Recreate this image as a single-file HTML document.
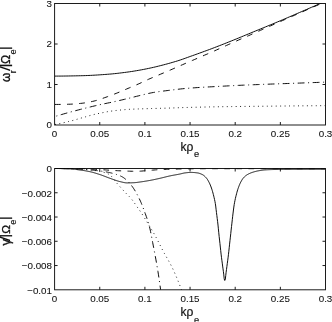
<!DOCTYPE html>
<html><head><meta charset="utf-8"><title>Dispersion plot</title>
<style>
html,body{margin:0;padding:0;background:#fff;}
body{width:332px;height:322px;overflow:hidden;}
svg{display:block;}
text{font-family:"Liberation Sans",sans-serif;fill:#111;}
.t{font-size:9.8px;stroke:#111;stroke-width:0.08px;}
.l{font-size:12px;stroke:#111;stroke-width:0.2px;}
.s{font-size:9.3px;stroke:#111;stroke-width:0.15px;}
.ax{fill:none;stroke:#111;stroke-width:0.95;}
.c{fill:none;stroke:#000;stroke-width:0.95;stroke-linejoin:round;}
</style></head><body>
<svg width="332" height="322" viewBox="0 0 332 322">
<rect width="332" height="322" fill="#fff"/>

<rect class="ax" x="54.6" y="3.5" width="270.9" height="121.5"/>
<path class="ax" d="M99.75,125.0 v-3 M99.75,3.5 v3"/>
<path class="ax" d="M144.90,125.0 v-3 M144.90,3.5 v3"/>
<path class="ax" d="M190.05,125.0 v-3 M190.05,3.5 v3"/>
<path class="ax" d="M235.20,125.0 v-3 M235.20,3.5 v3"/>
<path class="ax" d="M280.35,125.0 v-3 M280.35,3.5 v3"/>
<path class="ax" d="M54.6,84.50 h3 M325.5,84.50 h-3"/>
<path class="ax" d="M54.6,44.00 h3 M325.5,44.00 h-3"/>
<text class="t" x="54.60" y="137.10" text-anchor="middle">0</text>
<text class="t" x="99.75" y="137.10" text-anchor="middle">0.05</text>
<text class="t" x="144.90" y="137.10" text-anchor="middle">0.1</text>
<text class="t" x="190.05" y="137.10" text-anchor="middle">0.15</text>
<text class="t" x="235.20" y="137.10" text-anchor="middle">0.2</text>
<text class="t" x="280.35" y="137.10" text-anchor="middle">0.25</text>
<text class="t" x="325.50" y="137.10" text-anchor="middle">0.3</text>
<text class="t" x="52.0" y="128.40" text-anchor="end">0</text>
<text class="t" x="52.0" y="87.90" text-anchor="end">1</text>
<text class="t" x="52.0" y="47.40" text-anchor="end">2</text>
<text class="t" x="52.0" y="6.90" text-anchor="end">3</text>
<text class="l" x="180.5" y="150.60">kρ</text><text class="s" x="194.0" y="157.00">e</text>

<clipPath id="ct"><rect x="54.6" y="3.5" width="270.9" height="121.5"/></clipPath>
<g clip-path="url(#ct)">
<path class="c" d="M55.00,76.10 L56.70,76.10 L58.40,76.09 L60.09,76.08 L61.79,76.07 L63.49,76.05 L65.19,76.03 L66.89,76.00 L68.58,75.98 L70.28,75.95 L71.98,75.92 L73.68,75.88 L75.38,75.85 L77.08,75.81 L78.77,75.77 L80.47,75.73 L82.17,75.69 L83.87,75.65 L85.57,75.59 L87.26,75.53 L88.96,75.46 L90.66,75.38 L92.36,75.29 L94.06,75.20 L95.75,75.10 L97.45,74.99 L99.15,74.88 L100.85,74.76 L102.55,74.65 L104.25,74.52 L105.94,74.40 L107.64,74.27 L109.34,74.14 L111.04,74.00 L112.74,73.84 L114.43,73.67 L116.13,73.49 L117.83,73.30 L119.53,73.10 L121.23,72.89 L122.92,72.68 L124.62,72.46 L126.32,72.24 L128.02,72.01 L129.72,71.77 L131.42,71.52 L133.11,71.25 L134.81,70.98 L136.51,70.69 L138.21,70.40 L139.91,70.10 L141.60,69.79 L143.30,69.47 L145.00,69.14 L146.70,68.80 L148.40,68.45 L150.09,68.09 L151.79,67.72 L153.49,67.34 L155.19,66.95 L156.89,66.54 L158.58,66.12 L160.28,65.70 L161.98,65.26 L163.68,64.82 L165.38,64.37 L167.08,63.92 L168.77,63.45 L170.47,62.97 L172.17,62.48 L173.87,61.99 L175.57,61.48 L177.26,60.97 L178.96,60.43 L180.66,59.87 L182.36,59.29 L184.06,58.69 L185.75,58.08 L187.45,57.46 L189.15,56.84 L190.85,56.23 L192.55,55.63 L194.25,55.02 L195.94,54.41 L197.64,53.80 L199.34,53.19 L201.04,52.58 L202.74,51.96 L204.43,51.34 L206.13,50.72 L207.83,50.10 L209.53,49.47 L211.23,48.83 L212.92,48.19 L214.62,47.54 L216.32,46.89 L218.02,46.23 L219.72,45.57 L221.42,44.91 L223.11,44.24 L224.81,43.57 L226.51,42.89 L228.21,42.21 L229.91,41.53 L231.60,40.85 L233.30,40.16 L235.00,39.48 L236.70,38.79 L238.40,38.09 L240.09,37.39 L241.79,36.69 L243.49,35.98 L245.19,35.28 L246.89,34.57 L248.58,33.87 L250.28,33.16 L251.98,32.46 L253.68,31.76 L255.38,31.06 L257.08,30.37 L258.77,29.67 L260.47,28.97 L262.17,28.28 L263.87,27.58 L265.57,26.88 L267.26,26.18 L268.96,25.48 L270.66,24.78 L272.36,24.08 L274.06,23.37 L275.75,22.66 L277.45,21.95 L279.15,21.24 L280.85,20.53 L282.55,19.81 L284.25,19.09 L285.94,18.36 L287.64,17.64 L289.34,16.91 L291.04,16.18 L292.74,15.45 L294.43,14.72 L296.13,13.98 L297.83,13.25 L299.53,12.51 L301.23,11.78 L302.92,11.04 L304.62,10.30 L306.32,9.57 L308.02,8.83 L309.72,8.09 L311.42,7.35 L313.11,6.62 L314.81,5.88 L316.51,5.15 L318.21,4.41 L319.91,3.68 L321.60,2.95 L323.30,2.22 L325.00,1.48"/>
<path class="c" stroke-dasharray="5.7 6.4" d="M55.00,104.45 L56.70,104.45 L58.40,104.44 L60.09,104.42 L61.79,104.39 L63.49,104.36 L65.19,104.33 L66.89,104.29 L68.58,104.24 L70.28,104.19 L71.98,104.12 L73.68,104.02 L75.38,103.90 L77.08,103.75 L78.77,103.59 L80.47,103.42 L82.17,103.24 L83.87,103.02 L85.57,102.77 L87.26,102.48 L88.96,102.16 L90.66,101.81 L92.36,101.44 L94.06,101.05 L95.75,100.62 L97.45,100.12 L99.15,99.58 L100.85,99.00 L102.55,98.41 L104.25,97.81 L105.94,97.22 L107.64,96.61 L109.34,95.99 L111.04,95.36 L112.74,94.71 L114.43,94.05 L116.13,93.39 L117.83,92.71 L119.53,92.02 L121.23,91.30 L122.92,90.58 L124.62,89.85 L126.32,89.13 L128.02,88.40 L129.72,87.68 L131.42,86.97 L133.11,86.26 L134.81,85.54 L136.51,84.82 L138.21,84.08 L139.91,83.32 L141.60,82.52 L143.30,81.70 L145.00,80.89 L146.70,80.10 L148.40,79.34 L150.09,78.61 L151.79,77.89 L153.49,77.17 L155.19,76.46 L156.89,75.75 L158.58,75.03 L160.28,74.31 L161.98,73.59 L163.68,72.88 L165.38,72.16 L167.08,71.44 L168.77,70.71 L170.47,69.97 L172.17,69.23 L173.87,68.48 L175.57,67.72 L177.26,66.97 L178.96,66.23 L180.66,65.49 L182.36,64.75 L184.06,64.02 L185.75,63.29 L187.45,62.56 L189.15,61.83 L190.85,61.09 L192.55,60.36 L194.25,59.63 L195.94,58.90 L197.64,58.17 L199.34,57.43 L201.04,56.70 L202.74,55.97 L204.43,55.23 L206.13,54.50 L207.83,53.77 L209.53,53.03 L211.23,52.29 L212.92,51.55 L214.62,50.80 L216.32,50.04 L218.02,49.28 L219.72,48.52 L221.42,47.75 L223.11,46.99 L224.81,46.22 L226.51,45.45 L228.21,44.68 L229.91,43.91 L231.60,43.14 L233.30,42.37 L235.00,41.61 L236.70,40.86 L238.40,40.11 L240.09,39.37 L241.79,38.64 L243.49,37.90 L245.19,37.16 L246.89,36.41 L248.58,35.66 L250.28,34.91 L251.98,34.15 L253.68,33.39 L255.38,32.63 L257.08,31.87 L258.77,31.11 L260.47,30.35 L262.17,29.59 L263.87,28.83 L265.57,28.07 L267.26,27.31 L268.96,26.56 L270.66,25.80 L272.36,25.05 L274.06,24.30 L275.75,23.54 L277.45,22.79 L279.15,22.04 L280.85,21.29 L282.55,20.54 L284.25,19.79 L285.94,19.05 L287.64,18.30 L289.34,17.55 L291.04,16.80 L292.74,16.05 L294.43,15.30 L296.13,14.56 L297.83,13.81 L299.53,13.06 L301.23,12.32 L302.92,11.57 L304.62,10.82 L306.32,10.08 L308.02,9.33 L309.72,8.58 L311.42,7.84 L313.11,7.09 L314.81,6.35 L316.51,5.61 L318.21,4.86 L319.91,4.12 L321.60,3.37 L323.30,2.63 L325.00,1.89"/>
<path class="c" stroke-dasharray="6.8 3.6 1 3.6" stroke-dashoffset="9" d="M55.00,116.47 L56.70,115.96 L58.40,115.46 L60.09,114.96 L61.79,114.47 L63.49,113.98 L65.19,113.50 L66.89,113.03 L68.58,112.55 L70.28,112.09 L71.98,111.63 L73.68,111.17 L75.38,110.72 L77.08,110.27 L78.77,109.83 L80.47,109.39 L82.17,108.96 L83.87,108.53 L85.57,108.10 L87.26,107.68 L88.96,107.27 L90.66,106.85 L92.36,106.45 L94.06,106.04 L95.75,105.64 L97.45,105.25 L99.15,104.86 L100.85,104.49 L102.55,104.13 L104.25,103.77 L105.94,103.42 L107.64,103.07 L109.34,102.72 L111.04,102.36 L112.74,102.00 L114.43,101.62 L116.13,101.24 L117.83,100.86 L119.53,100.47 L121.23,100.08 L122.92,99.68 L124.62,99.29 L126.32,98.88 L128.02,98.47 L129.72,98.06 L131.42,97.64 L133.11,97.20 L134.81,96.76 L136.51,96.34 L138.21,95.93 L139.91,95.51 L141.60,95.10 L143.30,94.68 L145.00,94.27 L146.70,93.87 L148.40,93.49 L150.09,93.12 L151.79,92.78 L153.49,92.46 L155.19,92.17 L156.89,91.91 L158.58,91.67 L160.28,91.44 L161.98,91.22 L163.68,91.01 L165.38,90.81 L167.08,90.60 L168.77,90.39 L170.47,90.18 L172.17,89.97 L173.87,89.76 L175.57,89.55 L177.26,89.35 L178.96,89.15 L180.66,88.96 L182.36,88.78 L184.06,88.62 L185.75,88.47 L187.45,88.32 L189.15,88.19 L190.85,88.05 L192.55,87.93 L194.25,87.80 L195.94,87.69 L197.64,87.57 L199.34,87.46 L201.04,87.36 L202.74,87.26 L204.43,87.16 L206.13,87.07 L207.83,86.98 L209.53,86.89 L211.23,86.80 L212.92,86.71 L214.62,86.62 L216.32,86.52 L218.02,86.43 L219.72,86.34 L221.42,86.25 L223.11,86.16 L224.81,86.07 L226.51,85.98 L228.21,85.89 L229.91,85.80 L231.60,85.72 L233.30,85.63 L235.00,85.55 L236.70,85.46 L238.40,85.38 L240.09,85.30 L241.79,85.23 L243.49,85.15 L245.19,85.08 L246.89,85.01 L248.58,84.94 L250.28,84.87 L251.98,84.80 L253.68,84.73 L255.38,84.67 L257.08,84.60 L258.77,84.54 L260.47,84.47 L262.17,84.41 L263.87,84.34 L265.57,84.28 L267.26,84.22 L268.96,84.16 L270.66,84.09 L272.36,84.03 L274.06,83.97 L275.75,83.91 L277.45,83.85 L279.15,83.79 L280.85,83.73 L282.55,83.67 L284.25,83.61 L285.94,83.55 L287.64,83.49 L289.34,83.44 L291.04,83.38 L292.74,83.32 L294.43,83.26 L296.13,83.20 L297.83,83.14 L299.53,83.08 L301.23,83.02 L302.92,82.96 L304.62,82.90 L306.32,82.84 L308.02,82.78 L309.72,82.71 L311.42,82.65 L313.11,82.59 L314.81,82.53 L316.51,82.47 L318.21,82.40 L319.91,82.34 L321.60,82.28 L323.30,82.21 L325.00,82.15"/>
<path class="c" stroke-dasharray="0.9 3.55" d="M55.00,124.50 L56.70,124.17 L58.40,123.83 L60.09,123.48 L61.79,123.11 L63.49,122.73 L65.19,122.34 L66.89,121.94 L68.58,121.53 L70.28,121.11 L71.98,120.68 L73.68,120.23 L75.38,119.75 L77.08,119.26 L78.77,118.76 L80.47,118.27 L82.17,117.78 L83.87,117.30 L85.57,116.80 L87.26,116.31 L88.96,115.82 L90.66,115.35 L92.36,114.91 L94.06,114.49 L95.75,114.10 L97.45,113.74 L99.15,113.39 L100.85,113.04 L102.55,112.70 L104.25,112.35 L105.94,111.99 L107.64,111.66 L109.34,111.37 L111.04,111.13 L112.74,110.91 L114.43,110.69 L116.13,110.49 L117.83,110.30 L119.53,110.12 L121.23,109.95 L122.92,109.80 L124.62,109.65 L126.32,109.52 L128.02,109.41 L129.72,109.31 L131.42,109.22 L133.11,109.14 L134.81,109.07 L136.51,109.01 L138.21,108.95 L139.91,108.89 L141.60,108.84 L143.30,108.78 L145.00,108.73 L146.70,108.68 L148.40,108.63 L150.09,108.58 L151.79,108.53 L153.49,108.49 L155.19,108.45 L156.89,108.40 L158.58,108.36 L160.28,108.32 L161.98,108.27 L163.68,108.23 L165.38,108.18 L167.08,108.14 L168.77,108.09 L170.47,108.04 L172.17,107.98 L173.87,107.92 L175.57,107.85 L177.26,107.78 L178.96,107.72 L180.66,107.66 L182.36,107.60 L184.06,107.55 L185.75,107.50 L187.45,107.46 L189.15,107.41 L190.85,107.36 L192.55,107.32 L194.25,107.28 L195.94,107.24 L197.64,107.19 L199.34,107.15 L201.04,107.11 L202.74,107.08 L204.43,107.04 L206.13,107.00 L207.83,106.97 L209.53,106.93 L211.23,106.90 L212.92,106.87 L214.62,106.83 L216.32,106.80 L218.02,106.77 L219.72,106.75 L221.42,106.72 L223.11,106.69 L224.81,106.67 L226.51,106.64 L228.21,106.62 L229.91,106.60 L231.60,106.58 L233.30,106.55 L235.00,106.53 L236.70,106.51 L238.40,106.49 L240.09,106.48 L241.79,106.46 L243.49,106.44 L245.19,106.42 L246.89,106.40 L248.58,106.39 L250.28,106.37 L251.98,106.35 L253.68,106.34 L255.38,106.32 L257.08,106.30 L258.77,106.28 L260.47,106.26 L262.17,106.25 L263.87,106.23 L265.57,106.21 L267.26,106.19 L268.96,106.17 L270.66,106.16 L272.36,106.14 L274.06,106.12 L275.75,106.10 L277.45,106.08 L279.15,106.07 L280.85,106.05 L282.55,106.03 L284.25,106.02 L285.94,106.00 L287.64,105.98 L289.34,105.96 L291.04,105.95 L292.74,105.93 L294.43,105.91 L296.13,105.90 L297.83,105.88 L299.53,105.87 L301.23,105.85 L302.92,105.84 L304.62,105.82 L306.32,105.81 L308.02,105.79 L309.72,105.78 L311.42,105.77 L313.11,105.75 L314.81,105.74 L316.51,105.73 L318.21,105.71 L319.91,105.70 L321.60,105.69 L323.30,105.68 L325.00,105.66"/>
</g>
<g transform="translate(10.0,82.0) rotate(-90)"><text transform="translate(0.1,0) scale(1,1)" font-size="12" stroke="#111" stroke-width="0.35">ω</text><text transform="translate(8.8,5.8) scale(1,1)" font-size="9" stroke="#111" stroke-width="0.15">r</text><text transform="translate(10.9,0) scale(1.3,1)" font-size="14.5" stroke="#111" stroke-width="0.08">/</text><text transform="translate(14.8,-0.9) scale(1,1)" font-size="14" stroke="#111" stroke-width="0.25">|</text><text transform="translate(18.0,0) scale(1.03,1)" font-size="12" stroke="#111" stroke-width="0.3">Ω</text><text transform="translate(27.4,5.8) scale(1,1)" font-size="9.3" stroke="#111" stroke-width="0.15">e</text><text transform="translate(32.0,-0.9) scale(1,1)" font-size="14" stroke="#111" stroke-width="0.25">|</text></g>
<rect class="ax" x="54.6" y="168.5" width="270.9" height="121.30000000000001"/>
<path class="ax" d="M99.75,289.8 v-3 M99.75,168.5 v3"/>
<path class="ax" d="M144.90,289.8 v-3 M144.90,168.5 v3"/>
<path class="ax" d="M190.05,289.8 v-3 M190.05,168.5 v3"/>
<path class="ax" d="M235.20,289.8 v-3 M235.20,168.5 v3"/>
<path class="ax" d="M280.35,289.8 v-3 M280.35,168.5 v3"/>
<path class="ax" d="M54.6,192.76 h3 M325.5,192.76 h-3"/>
<path class="ax" d="M54.6,217.02 h3 M325.5,217.02 h-3"/>
<path class="ax" d="M54.6,241.28 h3 M325.5,241.28 h-3"/>
<path class="ax" d="M54.6,265.54 h3 M325.5,265.54 h-3"/>
<text class="t" x="54.60" y="301.90" text-anchor="middle">0</text>
<text class="t" x="99.75" y="301.90" text-anchor="middle">0.05</text>
<text class="t" x="144.90" y="301.90" text-anchor="middle">0.1</text>
<text class="t" x="190.05" y="301.90" text-anchor="middle">0.15</text>
<text class="t" x="235.20" y="301.90" text-anchor="middle">0.2</text>
<text class="t" x="280.35" y="301.90" text-anchor="middle">0.25</text>
<text class="t" x="325.50" y="301.90" text-anchor="middle">0.3</text>
<text class="t" x="52.0" y="172.00" text-anchor="end">0</text>
<text class="t" x="52.0" y="196.66" text-anchor="end">−0.002</text>
<text class="t" x="52.0" y="220.92" text-anchor="end">−0.004</text>
<text class="t" x="52.0" y="245.18" text-anchor="end">−0.006</text>
<text class="t" x="52.0" y="269.44" text-anchor="end">−0.008</text>
<text class="t" x="52.0" y="293.70" text-anchor="end">−0.01</text>
<text class="l" x="180.5" y="316.10">kρ</text><text class="s" x="194.0" y="322.50">e</text>

<clipPath id="cb"><rect x="54.6" y="168.5" width="270.9" height="121.30000000000001"/></clipPath>
<g clip-path="url(#cb)">
<path class="c" d="M55.00,168.50 L55.39,168.50 L55.77,168.50 L56.16,168.50 L56.55,168.51 L56.93,168.51 L57.32,168.51 L57.70,168.52 L58.09,168.52 L58.48,168.53 L58.86,168.53 L59.25,168.54 L59.64,168.55 L60.02,168.55 L60.41,168.56 L60.79,168.57 L61.18,168.58 L61.57,168.59 L61.95,168.60 L62.34,168.61 L62.73,168.62 L63.11,168.63 L63.50,168.65 L63.88,168.66 L64.27,168.67 L64.66,168.68 L65.04,168.70 L65.43,168.71 L65.82,168.73 L66.20,168.74 L66.59,168.76 L66.97,168.77 L67.36,168.79 L67.75,168.80 L68.13,168.82 L68.52,168.84 L68.91,168.85 L69.29,168.87 L69.68,168.89 L70.06,168.90 L70.45,168.92 L70.84,168.94 L71.22,168.97 L71.61,169.00 L72.00,169.03 L72.38,169.06 L72.77,169.10 L73.15,169.13 L73.54,169.17 L73.93,169.22 L74.31,169.26 L74.70,169.30 L75.09,169.35 L75.47,169.40 L75.86,169.45 L76.24,169.49 L76.63,169.55 L77.02,169.60 L77.40,169.65 L77.79,169.70 L78.18,169.75 L78.56,169.81 L78.95,169.86 L79.33,169.91 L79.72,169.96 L80.11,170.01 L80.49,170.07 L80.88,170.12 L81.27,170.17 L81.65,170.23 L82.04,170.28 L82.42,170.34 L82.81,170.40 L83.20,170.46 L83.58,170.52 L83.97,170.58 L84.36,170.64 L84.74,170.71 L85.13,170.77 L85.52,170.84 L85.90,170.90 L86.29,170.97 L86.67,171.04 L87.06,171.11 L87.45,171.19 L87.83,171.26 L88.22,171.33 L88.61,171.41 L88.99,171.49 L89.38,171.57 L89.76,171.65 L90.15,171.73 L90.54,171.82 L90.92,171.91 L91.31,172.00 L91.70,172.09 L92.08,172.19 L92.47,172.29 L92.85,172.40 L93.24,172.50 L93.63,172.61 L94.01,172.72 L94.40,172.83 L94.79,172.95 L95.17,173.06 L95.56,173.18 L95.94,173.30 L96.33,173.42 L96.72,173.54 L97.10,173.66 L97.49,173.79 L97.88,173.91 L98.26,174.04 L98.65,174.16 L99.03,174.29 L99.42,174.41 L99.81,174.54 L100.19,174.66 L100.58,174.79 L100.97,174.92 L101.35,175.06 L101.74,175.20 L102.12,175.33 L102.51,175.48 L102.90,175.62 L103.28,175.76 L103.67,175.91 L104.06,176.06 L104.44,176.21 L104.83,176.35 L105.21,176.50 L105.60,176.65 L105.99,176.80 L106.37,176.95 L106.76,177.10 L107.15,177.25 L107.53,177.40 L107.92,177.54 L108.30,177.69 L108.69,177.83 L109.08,177.97 L109.46,178.11 L109.85,178.25 L110.24,178.38 L110.62,178.52 L111.01,178.66 L111.39,178.80 L111.78,178.94 L112.17,179.08 L112.55,179.22 L112.94,179.36 L113.33,179.50 L113.71,179.64 L114.10,179.78 L114.48,179.92 L114.87,180.06 L115.26,180.19 L115.64,180.32 L116.03,180.46 L116.42,180.58 L116.80,180.71 L117.19,180.83 L117.58,180.95 L117.96,181.07 L118.35,181.18 L118.73,181.28 L119.12,181.39 L119.51,181.48 L119.89,181.58 L120.28,181.66 L120.67,181.76 L121.05,181.85 L121.44,181.94 L121.82,182.04 L122.21,182.13 L122.60,182.22 L122.98,182.31 L123.37,182.40 L123.76,182.48 L124.14,182.56 L124.53,182.63 L124.91,182.69 L125.30,182.75 L125.69,182.80 L126.07,182.84 L126.46,182.87 L126.85,182.89 L127.23,182.90 L127.62,182.90 L128.00,182.90 L128.39,182.89 L128.78,182.89 L129.16,182.88 L129.55,182.87 L129.94,182.86 L130.32,182.85 L130.71,182.84 L131.09,182.83 L131.48,182.81 L131.87,182.80 L132.25,182.78 L132.64,182.76 L133.03,182.75 L133.41,182.73 L133.80,182.71 L134.18,182.69 L134.57,182.67 L134.96,182.64 L135.34,182.60 L135.73,182.56 L136.12,182.52 L136.50,182.48 L136.89,182.43 L137.27,182.38 L137.66,182.33 L138.05,182.27 L138.43,182.22 L138.82,182.16 L139.21,182.11 L139.59,182.06 L139.98,182.00 L140.36,181.95 L140.75,181.90 L141.14,181.84 L141.52,181.79 L141.91,181.73 L142.30,181.68 L142.68,181.62 L143.07,181.56 L143.45,181.50 L143.84,181.44 L144.23,181.38 L144.61,181.32 L145.00,181.26 L145.39,181.20 L145.77,181.13 L146.16,181.07 L146.55,181.01 L146.93,180.94 L147.32,180.87 L147.70,180.81 L148.09,180.74 L148.48,180.67 L148.86,180.60 L149.25,180.54 L149.64,180.47 L150.02,180.40 L150.41,180.33 L150.79,180.25 L151.18,180.18 L151.57,180.11 L151.95,180.03 L152.34,179.95 L152.73,179.88 L153.11,179.80 L153.50,179.72 L153.88,179.64 L154.27,179.56 L154.66,179.48 L155.04,179.39 L155.43,179.31 L155.82,179.23 L156.20,179.14 L156.59,179.06 L156.97,178.97 L157.36,178.89 L157.75,178.80 L158.13,178.72 L158.52,178.63 L158.91,178.55 L159.29,178.46 L159.68,178.37 L160.06,178.29 L160.45,178.20 L160.84,178.11 L161.22,178.02 L161.61,177.93 L162.00,177.83 L162.38,177.74 L162.77,177.64 L163.15,177.55 L163.54,177.45 L163.93,177.35 L164.31,177.26 L164.70,177.16 L165.09,177.06 L165.47,176.97 L165.86,176.87 L166.24,176.77 L166.63,176.68 L167.02,176.58 L167.40,176.49 L167.79,176.40 L168.18,176.31 L168.56,176.22 L168.95,176.13 L169.33,176.04 L169.72,175.96 L170.11,175.88 L170.49,175.80 L170.88,175.72 L171.27,175.64 L171.65,175.56 L172.04,175.49 L172.42,175.42 L172.81,175.34 L173.20,175.27 L173.58,175.20 L173.97,175.13 L174.36,175.06 L174.74,174.99 L175.13,174.92 L175.52,174.85 L175.90,174.78 L176.29,174.71 L176.67,174.64 L177.06,174.57 L177.45,174.50 L177.83,174.42 L178.22,174.35 L178.61,174.28 L178.99,174.20 L179.38,174.13 L179.76,174.05 L180.15,173.97 L180.54,173.88 L180.92,173.79 L181.31,173.70 L181.70,173.60 L182.08,173.50 L182.47,173.40 L182.85,173.31 L183.24,173.22 L183.63,173.13 L184.01,173.06 L184.40,172.99 L184.79,172.93 L185.17,172.88 L185.56,172.83 L185.94,172.79 L186.33,172.74 L186.72,172.70 L187.10,172.66 L187.49,172.62 L187.88,172.58 L188.26,172.54 L188.65,172.51 L189.03,172.48 L189.42,172.46 L189.81,172.44 L190.19,172.42 L190.58,172.41 L190.97,172.40 L191.35,172.40 L191.74,172.40 L192.12,172.41 L192.51,172.43 L192.90,172.45 L193.28,172.47 L193.67,172.50 L194.06,172.53 L194.44,172.56 L194.83,172.60 L195.21,172.64 L195.60,172.68 L195.99,172.72 L196.37,172.77 L196.76,172.82 L197.15,172.87 L197.53,172.92 L197.92,172.98 L198.30,173.06 L198.69,173.15 L199.08,173.26 L199.46,173.38 L199.85,173.51 L200.24,173.65 L200.62,173.80 L201.01,173.96 L201.39,174.13 L201.78,174.30 L202.17,174.49 L202.55,174.68 L202.94,174.90 L203.33,175.15 L203.71,175.43 L204.10,175.74 L204.48,176.07 L204.87,176.43 L205.26,176.81 L205.64,177.21 L206.03,177.62 L206.42,178.07 L206.80,178.57 L207.19,179.11 L207.58,179.70 L207.96,180.34 L208.35,181.01 L208.73,181.71 L209.12,182.45 L209.51,183.22 L209.89,184.06 L210.28,184.97 L210.67,185.94 L211.05,186.96 L211.44,188.04 L211.82,189.17 L212.21,190.39 L212.60,191.69 L212.98,193.09 L213.37,194.57 L213.76,196.12 L214.14,197.72 L214.53,199.42 L214.91,201.28 L215.30,203.40 L215.69,206.02 L216.07,209.24 L216.46,212.48 L216.85,215.52 L217.23,218.56 L217.62,221.69 L218.00,225.04 L218.39,228.81 L218.78,232.79 L219.16,236.53 L219.55,240.05 L219.94,243.51 L220.32,247.04 L220.71,250.64 L221.09,254.10 L221.48,257.28 L221.87,260.25 L222.25,263.14 L222.64,266.05 L223.03,268.87 L223.41,271.73 L223.80,274.89 L224.18,278.64 L224.57,280.26 L224.96,280.43 L225.34,279.10 L225.73,275.62 L226.12,272.28 L226.50,269.40 L226.89,266.58 L227.27,263.68 L227.66,260.79 L228.05,257.84 L228.43,254.72 L228.82,251.30 L229.21,247.72 L229.59,244.16 L229.98,240.65 L230.36,237.14 L230.75,233.62 L231.14,230.09 L231.52,226.58 L231.91,223.13 L232.30,219.67 L232.68,216.28 L233.07,213.05 L233.45,209.99 L233.84,207.04 L234.23,204.43 L234.61,202.25 L235.00,200.30 L235.39,198.51 L235.77,196.84 L236.16,195.27 L236.55,193.75 L236.93,192.31 L237.32,190.96 L237.70,189.70 L238.09,188.54 L238.48,187.44 L238.86,186.39 L239.25,185.40 L239.64,184.46 L240.02,183.59 L240.41,182.78 L240.79,182.03 L241.18,181.32 L241.57,180.63 L241.95,179.98 L242.34,179.36 L242.73,178.80 L243.11,178.28 L243.50,177.81 L243.88,177.40 L244.27,177.01 L244.66,176.64 L245.04,176.29 L245.43,175.97 L245.82,175.66 L246.20,175.38 L246.59,175.11 L246.97,174.86 L247.36,174.62 L247.75,174.40 L248.13,174.19 L248.52,173.98 L248.91,173.79 L249.29,173.60 L249.68,173.42 L250.06,173.25 L250.45,173.09 L250.84,172.93 L251.22,172.78 L251.61,172.64 L252.00,172.50 L252.38,172.37 L252.77,172.25 L253.15,172.13 L253.54,172.01 L253.93,171.89 L254.31,171.78 L254.70,171.67 L255.09,171.57 L255.47,171.46 L255.86,171.37 L256.24,171.27 L256.63,171.18 L257.02,171.10 L257.40,171.01 L257.79,170.93 L258.18,170.86 L258.56,170.79 L258.95,170.72 L259.33,170.65 L259.72,170.58 L260.11,170.52 L260.49,170.45 L260.88,170.39 L261.27,170.33 L261.65,170.27 L262.04,170.21 L262.42,170.16 L262.81,170.11 L263.20,170.06 L263.58,170.02 L263.97,169.98 L264.36,169.95 L264.74,169.92 L265.13,169.89 L265.52,169.87 L265.90,169.84 L266.29,169.82 L266.67,169.80 L267.06,169.78 L267.45,169.76 L267.83,169.74 L268.22,169.72 L268.61,169.70 L268.99,169.68 L269.38,169.67 L269.76,169.65 L270.15,169.63 L270.54,169.62 L270.92,169.61 L271.31,169.59 L271.70,169.58 L272.08,169.57 L272.47,169.56 L272.85,169.55 L273.24,169.54 L273.63,169.53 L274.01,169.52 L274.40,169.51 L274.79,169.50 L275.17,169.50 L275.56,169.49 L275.94,169.48 L276.33,169.48 L276.72,169.47 L277.10,169.47 L277.49,169.46 L277.88,169.46 L278.26,169.45 L278.65,169.44 L279.03,169.44 L279.42,169.43 L279.81,169.43 L280.19,169.42 L280.58,169.42 L280.97,169.42 L281.35,169.41 L281.74,169.41 L282.12,169.40 L282.51,169.40 L282.90,169.40 L283.28,169.39 L283.67,169.39 L284.06,169.38 L284.44,169.38 L284.83,169.38 L285.21,169.37 L285.60,169.37 L285.99,169.37 L286.37,169.37 L286.76,169.36 L287.15,169.36 L287.53,169.36 L287.92,169.36 L288.30,169.36 L288.69,169.35 L289.08,169.35 L289.46,169.35 L289.85,169.35 L290.24,169.35 L290.62,169.35 L291.01,169.35 L291.39,169.35 L291.78,169.35 L292.17,169.34 L292.55,169.34 L292.94,169.34 L293.33,169.34 L293.71,169.34 L294.10,169.34 L294.48,169.34 L294.87,169.34 L295.26,169.34 L295.64,169.34 L296.03,169.33 L296.42,169.33 L296.80,169.33 L297.19,169.33 L297.58,169.33 L297.96,169.33 L298.35,169.33 L298.73,169.33 L299.12,169.33 L299.51,169.33 L299.89,169.33 L300.28,169.33 L300.67,169.32 L301.05,169.32 L301.44,169.32 L301.82,169.32 L302.21,169.32 L302.60,169.32 L302.98,169.32 L303.37,169.32 L303.76,169.32 L304.14,169.32 L304.53,169.32 L304.91,169.32 L305.30,169.32 L305.69,169.32 L306.07,169.31 L306.46,169.31 L306.85,169.31 L307.23,169.31 L307.62,169.31 L308.00,169.31 L308.39,169.31 L308.78,169.31 L309.16,169.31 L309.55,169.31 L309.94,169.31 L310.32,169.31 L310.71,169.31 L311.09,169.31 L311.48,169.31 L311.87,169.31 L312.25,169.31 L312.64,169.31 L313.03,169.31 L313.41,169.31 L313.80,169.31 L314.18,169.30 L314.57,169.30 L314.96,169.30 L315.34,169.30 L315.73,169.30 L316.12,169.30 L316.50,169.30 L316.89,169.30 L317.27,169.30 L317.66,169.30 L318.05,169.30 L318.43,169.30 L318.82,169.30 L319.21,169.30 L319.59,169.30 L319.98,169.30 L320.36,169.30 L320.75,169.30 L321.14,169.30 L321.52,169.30 L321.91,169.30 L322.30,169.30 L322.68,169.30 L323.07,169.30 L323.45,169.30 L323.84,169.30 L324.23,169.30 L324.61,169.30 L325.00,169.30"/>
<path class="c" stroke-dasharray="5.7 6.4" d="M55.00,168.20 L56.36,168.20 L57.71,168.21 L59.07,168.21 L60.43,168.23 L61.78,168.24 L63.14,168.26 L64.50,168.27 L65.85,168.29 L67.21,168.32 L68.57,168.34 L69.92,168.37 L71.28,168.40 L72.64,168.43 L73.99,168.46 L75.35,168.49 L76.71,168.52 L78.07,168.55 L79.42,168.59 L80.78,168.62 L82.14,168.66 L83.49,168.71 L84.85,168.77 L86.21,168.83 L87.56,168.90 L88.92,168.97 L90.28,169.04 L91.63,169.12 L92.99,169.20 L94.35,169.28 L95.70,169.35 L97.06,169.43 L98.42,169.51 L99.77,169.59 L101.13,169.66 L102.49,169.74 L103.84,169.83 L105.20,169.92 L106.56,170.01 L107.91,170.10 L109.27,170.19 L110.63,170.28 L111.98,170.37 L113.34,170.45 L114.70,170.53 L116.06,170.61 L117.41,170.68 L118.77,170.75 L120.13,170.80 L121.48,170.86 L122.84,170.92 L124.20,170.97 L125.55,171.03 L126.91,171.08 L128.27,171.13 L129.62,171.18 L130.98,171.22 L132.34,171.25 L133.69,171.28 L135.05,171.29 L136.41,171.30 L137.76,171.29 L139.12,171.23 L140.48,171.15 L141.83,171.05 L143.19,170.93 L144.55,170.80 L145.90,170.66 L147.26,170.53 L148.62,170.41 L149.97,170.30 L151.33,170.20 L152.69,170.10 L154.05,170.00 L155.40,169.90 L156.76,169.80 L158.12,169.71 L159.47,169.63 L160.83,169.55 L162.19,169.49 L163.54,169.44 L164.90,169.39 L166.26,169.34 L167.61,169.30 L168.97,169.26 L170.33,169.22 L171.68,169.18 L173.04,169.15 L174.40,169.11 L175.75,169.08 L177.11,169.05 L178.47,169.01 L179.82,168.98 L181.18,168.95 L182.54,168.92 L183.89,168.89 L185.25,168.86 L186.61,168.84 L187.96,168.82 L189.32,168.81 L190.68,168.79 L192.04,168.78 L193.39,168.77 L194.75,168.76 L196.11,168.75 L197.46,168.74 L198.82,168.74 L200.18,168.73 L201.53,168.72 L202.89,168.72 L204.25,168.71 L205.60,168.71 L206.96,168.70 L208.32,168.70 L209.67,168.70 L211.03,168.70 L212.39,168.70 L213.74,168.70 L215.10,168.70 L216.46,168.70 L217.81,168.70 L219.17,168.70 L220.53,168.70 L221.88,168.70 L223.24,168.70 L224.60,168.70 L225.95,168.70 L227.31,168.70 L228.67,168.70 L230.03,168.70 L231.38,168.70 L232.74,168.70 L234.10,168.70 L235.45,168.70 L236.81,168.70 L238.17,168.70 L239.52,168.70 L240.88,168.70 L242.24,168.70 L243.59,168.70 L244.95,168.70 L246.31,168.70 L247.66,168.70 L249.02,168.70 L250.38,168.70 L251.73,168.70 L253.09,168.70 L254.45,168.70 L255.80,168.70 L257.16,168.70 L258.52,168.70 L259.87,168.70 L261.23,168.70 L262.59,168.70 L263.94,168.70 L265.30,168.70 L266.66,168.70 L268.02,168.70 L269.37,168.70 L270.73,168.70 L272.09,168.70 L273.44,168.70 L274.80,168.70 L276.16,168.70 L277.51,168.70 L278.87,168.70 L280.23,168.70 L281.58,168.70 L282.94,168.70 L284.30,168.70 L285.65,168.70 L287.01,168.70 L288.37,168.70 L289.72,168.70 L291.08,168.70 L292.44,168.70 L293.79,168.70 L295.15,168.70 L296.51,168.70 L297.86,168.70 L299.22,168.70 L300.58,168.70 L301.93,168.70 L303.29,168.70 L304.65,168.70 L306.01,168.70 L307.36,168.70 L308.72,168.70 L310.08,168.70 L311.43,168.70 L312.79,168.70 L314.15,168.70 L315.50,168.70 L316.86,168.70 L318.22,168.70 L319.57,168.70 L320.93,168.70 L322.29,168.70 L323.64,168.70 L325.00,168.70"/>
<path class="c" stroke-dasharray="6.8 3.6 1 3.6" stroke-dashoffset="9" d="M55.00,168.50 L55.53,168.50 L56.06,168.50 L56.59,168.50 L57.12,168.51 L57.65,168.51 L58.18,168.52 L58.71,168.52 L59.25,168.53 L59.78,168.53 L60.31,168.54 L60.84,168.55 L61.37,168.56 L61.90,168.57 L62.43,168.58 L62.96,168.59 L63.49,168.61 L64.02,168.62 L64.55,168.63 L65.08,168.64 L65.61,168.66 L66.14,168.67 L66.67,168.69 L67.21,168.71 L67.74,168.72 L68.27,168.74 L68.80,168.76 L69.33,168.77 L69.86,168.79 L70.39,168.81 L70.92,168.83 L71.45,168.85 L71.98,168.87 L72.51,168.89 L73.04,168.91 L73.57,168.93 L74.10,168.95 L74.63,168.97 L75.16,169.00 L75.70,169.02 L76.23,169.04 L76.76,169.06 L77.29,169.08 L77.82,169.11 L78.35,169.13 L78.88,169.15 L79.41,169.17 L79.94,169.20 L80.47,169.22 L81.00,169.25 L81.53,169.27 L82.06,169.30 L82.59,169.33 L83.12,169.37 L83.66,169.40 L84.19,169.44 L84.72,169.47 L85.25,169.51 L85.78,169.55 L86.31,169.59 L86.84,169.63 L87.37,169.68 L87.90,169.72 L88.43,169.77 L88.96,169.82 L89.49,169.86 L90.02,169.91 L90.55,169.96 L91.08,170.01 L91.62,170.06 L92.15,170.11 L92.68,170.17 L93.21,170.22 L93.74,170.27 L94.27,170.33 L94.80,170.38 L95.33,170.43 L95.86,170.49 L96.39,170.55 L96.92,170.61 L97.45,170.67 L97.98,170.73 L98.51,170.79 L99.04,170.86 L99.57,170.93 L100.11,171.00 L100.64,171.07 L101.17,171.14 L101.70,171.22 L102.23,171.29 L102.76,171.37 L103.29,171.45 L103.82,171.54 L104.35,171.62 L104.88,171.71 L105.41,171.79 L105.94,171.89 L106.47,171.98 L107.00,172.07 L107.53,172.17 L108.07,172.28 L108.60,172.38 L109.13,172.49 L109.66,172.61 L110.19,172.73 L110.72,172.85 L111.25,172.98 L111.78,173.11 L112.31,173.25 L112.84,173.39 L113.37,173.53 L113.90,173.68 L114.43,173.83 L114.96,173.99 L115.49,174.15 L116.03,174.32 L116.56,174.49 L117.09,174.66 L117.62,174.85 L118.15,175.04 L118.68,175.24 L119.21,175.45 L119.74,175.67 L120.27,175.90 L120.80,176.14 L121.33,176.39 L121.86,176.66 L122.39,176.94 L122.92,177.24 L123.45,177.58 L123.98,177.95 L124.52,178.36 L125.05,178.78 L125.58,179.24 L126.11,179.71 L126.64,180.19 L127.17,180.70 L127.70,181.21 L128.23,181.73 L128.76,182.27 L129.29,182.84 L129.82,183.44 L130.35,184.06 L130.88,184.72 L131.41,185.39 L131.94,186.10 L132.48,186.83 L133.01,187.58 L133.54,188.37 L134.07,189.19 L134.60,190.04 L135.13,190.91 L135.66,191.82 L136.19,192.75 L136.72,193.71 L137.25,194.70 L137.78,195.72 L138.31,196.75 L138.84,197.82 L139.37,198.90 L139.90,200.01 L140.44,201.16 L140.97,202.37 L141.50,203.64 L142.03,204.95 L142.56,206.31 L143.09,207.70 L143.62,209.12 L144.15,210.56 L144.68,212.02 L145.21,213.48 L145.74,214.94 L146.27,216.42 L146.80,217.94 L147.33,219.51 L147.86,221.16 L148.39,222.90 L148.93,224.74 L149.46,226.72 L149.99,228.92 L150.52,231.37 L151.05,233.99 L151.58,236.74 L152.11,239.55 L152.64,242.34 L153.17,245.07 L153.70,247.80 L154.23,250.55 L154.76,253.36 L155.29,256.21 L155.82,259.13 L156.35,262.11 L156.89,265.14 L157.42,268.25 L157.95,271.47 L158.48,274.84 L159.01,278.37 L159.54,282.05 L160.07,285.86 L160.60,289.80"/>
<path class="c" stroke-dasharray="0.9 3.55" d="M55.00,168.50 L55.64,168.50 L56.27,168.50 L56.91,168.50 L57.54,168.51 L58.18,168.51 L58.81,168.52 L59.45,168.52 L60.09,168.53 L60.72,168.54 L61.36,168.55 L61.99,168.56 L62.63,168.57 L63.26,168.58 L63.90,168.59 L64.54,168.60 L65.17,168.62 L65.81,168.63 L66.44,168.65 L67.08,168.66 L67.71,168.68 L68.35,168.70 L68.98,168.71 L69.62,168.73 L70.26,168.75 L70.89,168.77 L71.53,168.79 L72.16,168.81 L72.80,168.83 L73.43,168.85 L74.07,168.88 L74.71,168.90 L75.34,168.92 L75.98,168.94 L76.61,168.97 L77.25,168.99 L77.88,169.02 L78.52,169.04 L79.16,169.07 L79.79,169.09 L80.43,169.12 L81.06,169.15 L81.70,169.18 L82.33,169.22 L82.97,169.25 L83.61,169.30 L84.24,169.34 L84.88,169.39 L85.51,169.44 L86.15,169.49 L86.78,169.55 L87.42,169.61 L88.06,169.67 L88.69,169.73 L89.33,169.80 L89.96,169.87 L90.60,169.94 L91.23,170.01 L91.87,170.09 L92.51,170.17 L93.14,170.25 L93.78,170.33 L94.41,170.42 L95.05,170.51 L95.68,170.60 L96.32,170.69 L96.95,170.79 L97.59,170.90 L98.23,171.01 L98.86,171.13 L99.50,171.26 L100.13,171.39 L100.77,171.53 L101.40,171.68 L102.04,171.84 L102.68,172.01 L103.31,172.19 L103.95,172.38 L104.58,172.57 L105.22,172.78 L105.85,173.00 L106.49,173.24 L107.13,173.48 L107.76,173.74 L108.40,174.01 L109.03,174.32 L109.67,174.73 L110.30,175.24 L110.94,175.83 L111.58,176.49 L112.21,177.21 L112.85,177.98 L113.48,178.79 L114.12,179.62 L114.75,180.46 L115.39,181.31 L116.03,182.14 L116.66,182.94 L117.30,183.71 L117.93,184.44 L118.57,185.13 L119.20,185.83 L119.84,186.53 L120.47,187.24 L121.11,187.94 L121.75,188.64 L122.38,189.33 L123.02,190.03 L123.65,190.72 L124.29,191.41 L124.92,192.10 L125.56,192.77 L126.20,193.45 L126.83,194.11 L127.47,194.77 L128.10,195.40 L128.74,196.01 L129.37,196.62 L130.01,197.27 L130.65,197.98 L131.28,198.74 L131.92,199.54 L132.55,200.37 L133.19,201.23 L133.82,202.11 L134.46,203.01 L135.10,203.93 L135.73,204.85 L136.37,205.77 L137.00,206.69 L137.64,207.61 L138.27,208.50 L138.91,209.39 L139.55,210.28 L140.18,211.19 L140.82,212.12 L141.45,213.08 L142.09,214.06 L142.72,215.05 L143.36,216.05 L143.99,217.06 L144.63,218.09 L145.27,219.12 L145.90,220.16 L146.54,221.20 L147.17,222.24 L147.81,223.29 L148.44,224.33 L149.08,225.37 L149.72,226.41 L150.35,227.46 L150.99,228.51 L151.62,229.57 L152.26,230.64 L152.89,231.72 L153.53,232.81 L154.17,233.92 L154.80,235.04 L155.44,236.19 L156.07,237.37 L156.71,238.57 L157.34,239.78 L157.98,241.02 L158.62,242.27 L159.25,243.52 L159.89,244.78 L160.52,246.03 L161.16,247.28 L161.79,248.53 L162.43,249.76 L163.07,250.97 L163.70,252.16 L164.34,253.32 L164.97,254.46 L165.61,255.58 L166.24,256.69 L166.88,257.80 L167.52,258.90 L168.15,260.01 L168.79,261.13 L169.42,262.27 L170.06,263.43 L170.69,264.62 L171.33,265.85 L171.96,267.11 L172.60,268.42 L173.24,269.77 L173.87,271.14 L174.51,272.55 L175.14,273.98 L175.78,275.44 L176.41,276.93 L177.05,278.45 L177.69,280.00 L178.32,281.57 L178.96,283.17 L179.59,284.79 L180.23,286.44 L180.86,288.11 L181.50,289.80"/>
</g>
<g transform="translate(10.0,246.0) rotate(-90)"><text transform="translate(0.5,0) scale(1.05,1)" font-size="12.5" stroke="#111" stroke-width="0.3">γ</text><text transform="translate(4.8,0) scale(1.3,1)" font-size="14.5" stroke="#111" stroke-width="0.08">/</text><text transform="translate(8.6,-0.9) scale(1,1)" font-size="14" stroke="#111" stroke-width="0.25">|</text><text transform="translate(12.2,0) scale(1.0,1)" font-size="11.8" stroke="#111" stroke-width="0.3">Ω</text><text transform="translate(21.2,5.8) scale(1,1)" font-size="9.3" stroke="#111" stroke-width="0.15">e</text><text transform="translate(26.0,-0.9) scale(1,1)" font-size="14" stroke="#111" stroke-width="0.25">|</text></g>
</svg></body></html>
